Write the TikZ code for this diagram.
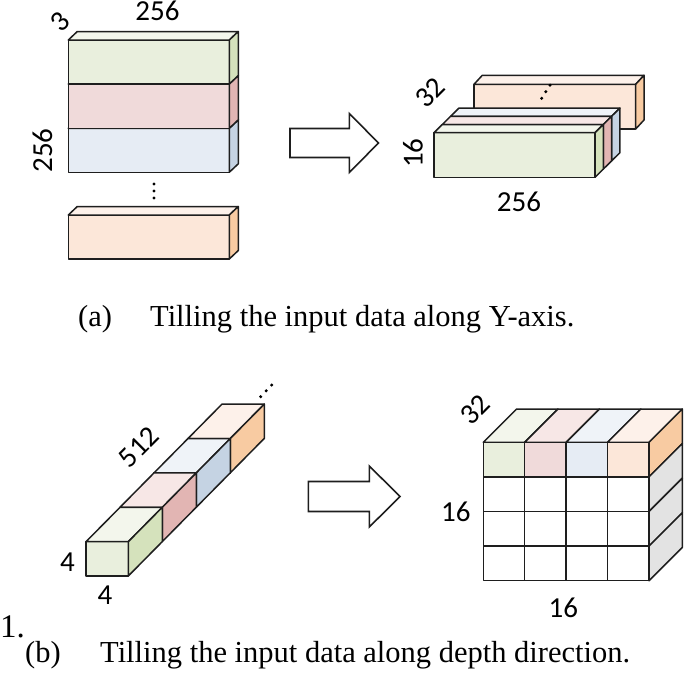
\documentclass[tikz,border=0pt]{standalone}
\usepackage{fontspec}
\setmainfont{Liberation Serif}
\newfontfamily\labfont{Carlito}
\definecolor{ln}{HTML}{1E1E1E}
\definecolor{gF}{HTML}{E9EFDD}\definecolor{gT}{HTML}{F3F6EC}\definecolor{gS}{HTML}{D5E2BC}
\definecolor{pF}{HTML}{F0DADA}\definecolor{pT}{HTML}{F7E7E6}\definecolor{pS}{HTML}{E2B5B3}
\definecolor{bF}{HTML}{E6ECF4}\definecolor{bT}{HTML}{EFF3F8}\definecolor{bS}{HTML}{C5D3E3}
\definecolor{oF}{HTML}{FCE7D9}\definecolor{oT}{HTML}{FDF1EA}\definecolor{oS}{HTML}{F8CBA2}
\definecolor{gyS}{HTML}{E3E3E3}
\tikzset{
  face/.style={draw=ln, line width=1.5pt, line join=round},
  blockarrow/.style={draw=ln, line width=1.6pt, fill=white, line join=miter},
  dimlabel/.style={inner sep=0pt, font=\labfont\fontsize{29}{29}\selectfont, text=black},
  capbig/.style={inner sep=0pt, anchor=base west, font=\fontsize{30.5}{32}\selectfont, text=black},
  dotmark/.style={fill=black}
}
% cuboid: x1 y1 x2 y2 (front face), dx dy (depth), front/top/side colours
\newcommand\cub[9]{%
  \path[face,fill=#7] ({#1},{#2}) rectangle ({#3},{#4});
  \path[face,fill=#8] ({#1},{#2}) -- ({#1+#5},{#2+#6}) -- ({#3+#5},{#2+#6}) -- ({#3},{#2}) -- cycle;
  \path[face,fill=#9] ({#3},{#2}) -- ({#3+#5},{#2+#6}) -- ({#3+#5},{#4+#6}) -- ({#3},{#4}) -- cycle;}
\begin{document}
\begin{tikzpicture}[x=1pt,y=-1pt]
\useasboundingbox (0,0) rectangle (685,673);
% ---------------- (a) left stack
\cub{68.3}{128.3}{229.3}{172.3}{9}{-8.5}{bF}{bT}{bS}
\cub{68.3}{84}{229.3}{128.3}{9}{-8.5}{pF}{pT}{pS}
\cub{68.3}{40}{229.3}{84}{9}{-8.5}{gF}{gT}{gS}
\cub{68.3}{215}{229.3}{259}{9}{-8.5}{oF}{oT}{oS}
\foreach \yy in {184,191,198} \fill[dotmark] (154,\yy) circle (1.7);
\node[dimlabel, rotate=45] (a3) at (60,22) {3};
\node[dimlabel] (aw) at (157.5,11) {256};
\node[dimlabel, rotate=90] (ah) at (42.5,150.5) {256};
% ---------------- (a) arrow
\draw[blockarrow] (290,128.5) -- (349.3,128.5) -- (349.3,113.5) -- (378.5,143) -- (349.3,172.5) -- (349.3,157.5) -- (290,157.5) -- cycle;
% ---------------- (a) right
\cub{474}{84.3}{635.7}{129}{8.3}{-9}{oF}{oT}{oS}
\fill[dotmark] (541.7,98.3) circle (1.7) (545.8,91.7) circle (1.7) (550,85.2) circle (1.7);
\cub{450.6}{116.3}{611.6}{160.9}{8.3}{-8.2}{bF}{bT}{bS}
\cub{442.3}{124.5}{603.3}{169.1}{8.3}{-8.2}{pF}{pT}{pS}
\cub{434}{132.7}{595}{177.3}{8.3}{-8.2}{gF}{gT}{gS}
\node[dimlabel, rotate=45] (b32) at (430,93) {32};
\node[dimlabel, rotate=90] (b16) at (413,153) {16};
\node[dimlabel] (bw) at (519,201.7) {256};
% ---------------- caption (a)
\node[capbig] (capalbl) at (78,326) {(a)};
\node[capbig] (capatxt) at (150,326) {Tilling the input data along Y-axis.};
% ---------------- (b) left bar of cubes
\foreach \i/\F/\T/\S in {3/oF/oT/oS,2/bF/bT/bS,1/pF/pT/pS,0/gF/gT/gS}{
  \cub{86+34*\i}{541.7-34.4*\i}{128.3+34*\i}{576-34.4*\i}{34}{-34.4}{\F}{\T}{\S}
}
\fill[dotmark] (260.7,396.7) circle (1.7) (266.2,390.8) circle (1.7) (271.7,385) circle (1.7);
\node[dimlabel, rotate=45] (c512) at (139,447) {512};
\node[dimlabel] (c4a) at (67.5,561.7) {4};
\node[dimlabel] (c4b) at (105,595) {4};
% ---------------- (b) arrow
\draw[blockarrow] (308.3,481.5) -- (369.3,481.5) -- (369.3,466) -- (400,496.5) -- (369.3,527) -- (369.3,511.5) -- (308.3,511.5) -- cycle;
% ---------------- (b) right grid block
\foreach \j/\T in {0/gT,1/pT,2/bT,3/oT}{
  \path[face,fill=\T] ({483.3+41.425*\j},442.3) -- ({483.3+41.425*\j+33.3},409) -- ({483.3+41.425*(\j+1)+33.3},409) -- ({483.3+41.425*(\j+1)},442.3) -- cycle;
}
\foreach \j/\F in {0/gF,1/pF,2/bF,3/oF}{
  \path[face,fill=\F] ({483.3+41.425*\j},442.3) rectangle ({483.3+41.425*(\j+1)},477.7);
}
\foreach \r in {1,2,3}{
  \foreach \j in {0,1,2,3}{
    \path[face,fill=white] ({483.3+41.425*\j},{442.3+34.6*\r}) rectangle ({483.3+41.425*(\j+1)},{442.3+34.6*(\r+1)});
  }
}
\foreach \r/\S in {0/oS,1/gyS,2/gyS,3/gyS}{
  \path[face,fill=\S] (649,{442.3+34.6*\r}) -- (682.3,{409+34.6*\r}) -- (682.3,{409+34.6*(\r+1)}) -- (649,{442.3+34.6*(\r+1)}) -- cycle;
}
\node[dimlabel, rotate=45] (d32) at (475,410) {32};
\node[dimlabel] (d16a) at (455.8,511.7) {16};
\node[dimlabel] (d16b) at (563.3,608.3) {16};
% ---------------- caption (b)
\node[capbig, font=\fontsize{33}{34}\selectfont] (one) at (0,637) {1.};
\node[capbig] (capblbl) at (25,662) {(b)};
\node[capbig] (capbtxt) at (100,662) {Tilling the input data along depth direction.};
\end{tikzpicture}
\end{document}
